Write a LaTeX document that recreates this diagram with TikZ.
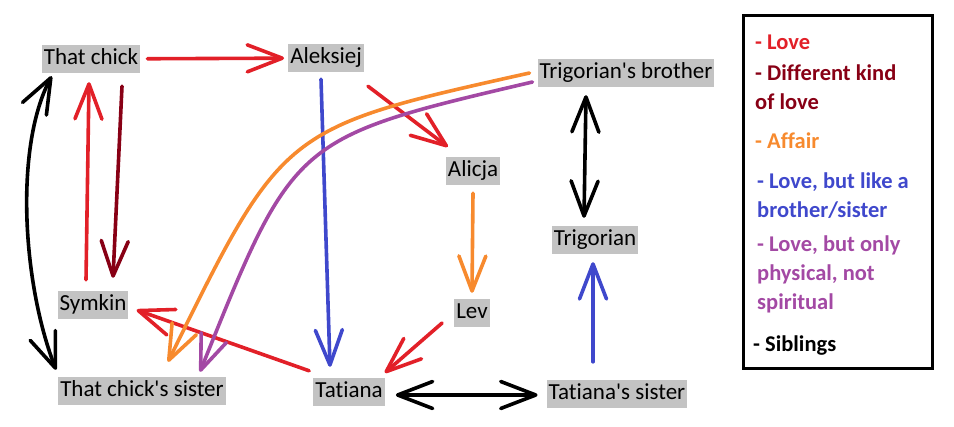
\documentclass[tikz,border=0pt]{standalone}
\usepackage{fontspec}
\setmainfont{Carlito}[Ligatures={TeXOff,NoCommon}]
\usetikzlibrary{arrows.meta, calc}

\definecolor{lovered}{RGB}{226,32,40}
\definecolor{diffred}{RGB}{136,0,21}
\definecolor{affairorange}{RGB}{247,138,46}
\definecolor{brotherblue}{RGB}{63,72,204}
\definecolor{physpurple}{RGB}{163,73,164}
\definecolor{namegray}{RGB}{195,195,195}

\begin{document}
\begin{tikzpicture}[
    x=1pt, y=-1pt,
    person/.style={
        fill=namegray, inner xsep=2pt, inner ysep=0pt,
        minimum height=28pt, text height=16pt, text depth=4pt,
        font=\fontsize{23}{27}\selectfont
    },
    rel/.style={line width=3.6pt, line cap=round,
        -{Straight Barb[length=35pt,width=27pt,line cap=round,line join=round]}},
    both/.style={rel, {Straight Barb[length=35pt,width=27pt,line cap=round,line join=round]}-{Straight Barb[length=35pt,width=27pt,line cap=round,line join=round]}},
    love/.style={rel, draw=lovered},
    difflove/.style={rel, draw=diffred},
    affair/.style={rel, draw=affairorange},
    brotherly/.style={rel, draw=brotherblue},
    physical/.style={rel, draw=physpurple},
    siblings/.style={both, draw=black},
    legtext/.style={anchor=base west, align=left, inner sep=0pt,
        font=\fontsize{22.5}{29}\selectfont\bfseries},
]
\useasboundingbox (0,0) rectangle (954,427);

% people
\node[person] (chick)    at (91,59)   {That chick};
\node[person] (aleks)    at (326,58)  {Aleksiej};
\node[person] (tbrother) at (626,73)  {Trigorian's brother};
\node[person] (alicja)   at (473,171) {Alicja};
\node[person] (trigorian) at (595,240) {Trigorian};
\node[person] (symkin)   at (93,305)  {Symkin};
\node[person] (lev)      at (472,313) {Lev};
\node[person] (sister)   at (142,391) {That chick's sister};
\node[person] (tatiana)  at (349,392) {Tatiana};
\node[person] (tsister)  at (617,394) {Tatiana's sister};

% relations
\draw[love, shorten <=7pt, shorten >=4pt] (chick) -- (aleks);
\draw[love] ($(aleks.south east)+(4,14)$) -- ($(alicja.north west)+(2,-10)$);
\draw[brotherly] ($(aleks.south)+(-5,7)$) -- ($(tatiana.north)+(-19,-11)$);
\draw[affair] ($(alicja.south)+(0,8)$) -- ($(lev.north)+(0,-6)$);
\draw[love] ($(lev.west)+(-12,10)$) -- ($(tatiana.north east)+(0,-5)$);
\draw[love] ($(tatiana.north west)+(-4,-7)$) -- ($(symkin.east)+(8,5)$);
\draw[love] ($(symkin.north)+(-7,-11)$) -- ($(chick.south)+(-2,9)$);
\draw[difflove] ($(chick.south)+(31,13)$) -- ($(symkin.north)+(20,-13)$);
\draw[siblings] ($(chick.south west)+(10,3)$)
    .. controls +(-37,70) and +(-34,-88) .. ($(sister.north west)+(-2,-7)$);
\draw[siblings] ($(tbrother.south)+(-40,8)$) -- ($(trigorian.north)+(-11,-8)$);
\draw[brotherly] ($(tsister.north)+(-24,-18)$) -- ($(trigorian.south)+(-2,8)$);
\draw[siblings] ($(tatiana.east)+(11,3)$) -- ($(tsister.west)+(-9,1)$);
\draw[affair] ($(tbrother.west)+(-8,0)$)
    .. controls +(-247,55) and +(115,-234) .. ($(sister.north)+(26,-15)$);
\draw[physical] ($(tbrother.west)+(-5,9)$)
    .. controls +(-239,56) and +(94,-234) .. ($(sister.north)+(58,-5)$);

% legend
\node[draw=black, line width=3pt, minimum width=189pt, minimum height=353pt,
      anchor=north west] (legend) at (741.5,14.5) {};
\node[legtext, text=lovered]      (legLove)   at (755,50)  {- Love};
\node[legtext, text=diffred]      (legDiff)   at (755,110) {- Different kind\\of love};
\node[legtext, text=affairorange] (legAffair) at (755,149) {- Affair};
\node[legtext, text=brotherblue]  (legBro)    at (757,218) {- Love, but like a\\brother/sister};
\node[legtext, text=physpurple]   (legPhys)   at (757,310) {- Love, but only\\physical, not\\spiritual};
\node[legtext, text=black]        (legSib)    at (753,352) {- Siblings};
\end{tikzpicture}
\end{document}
